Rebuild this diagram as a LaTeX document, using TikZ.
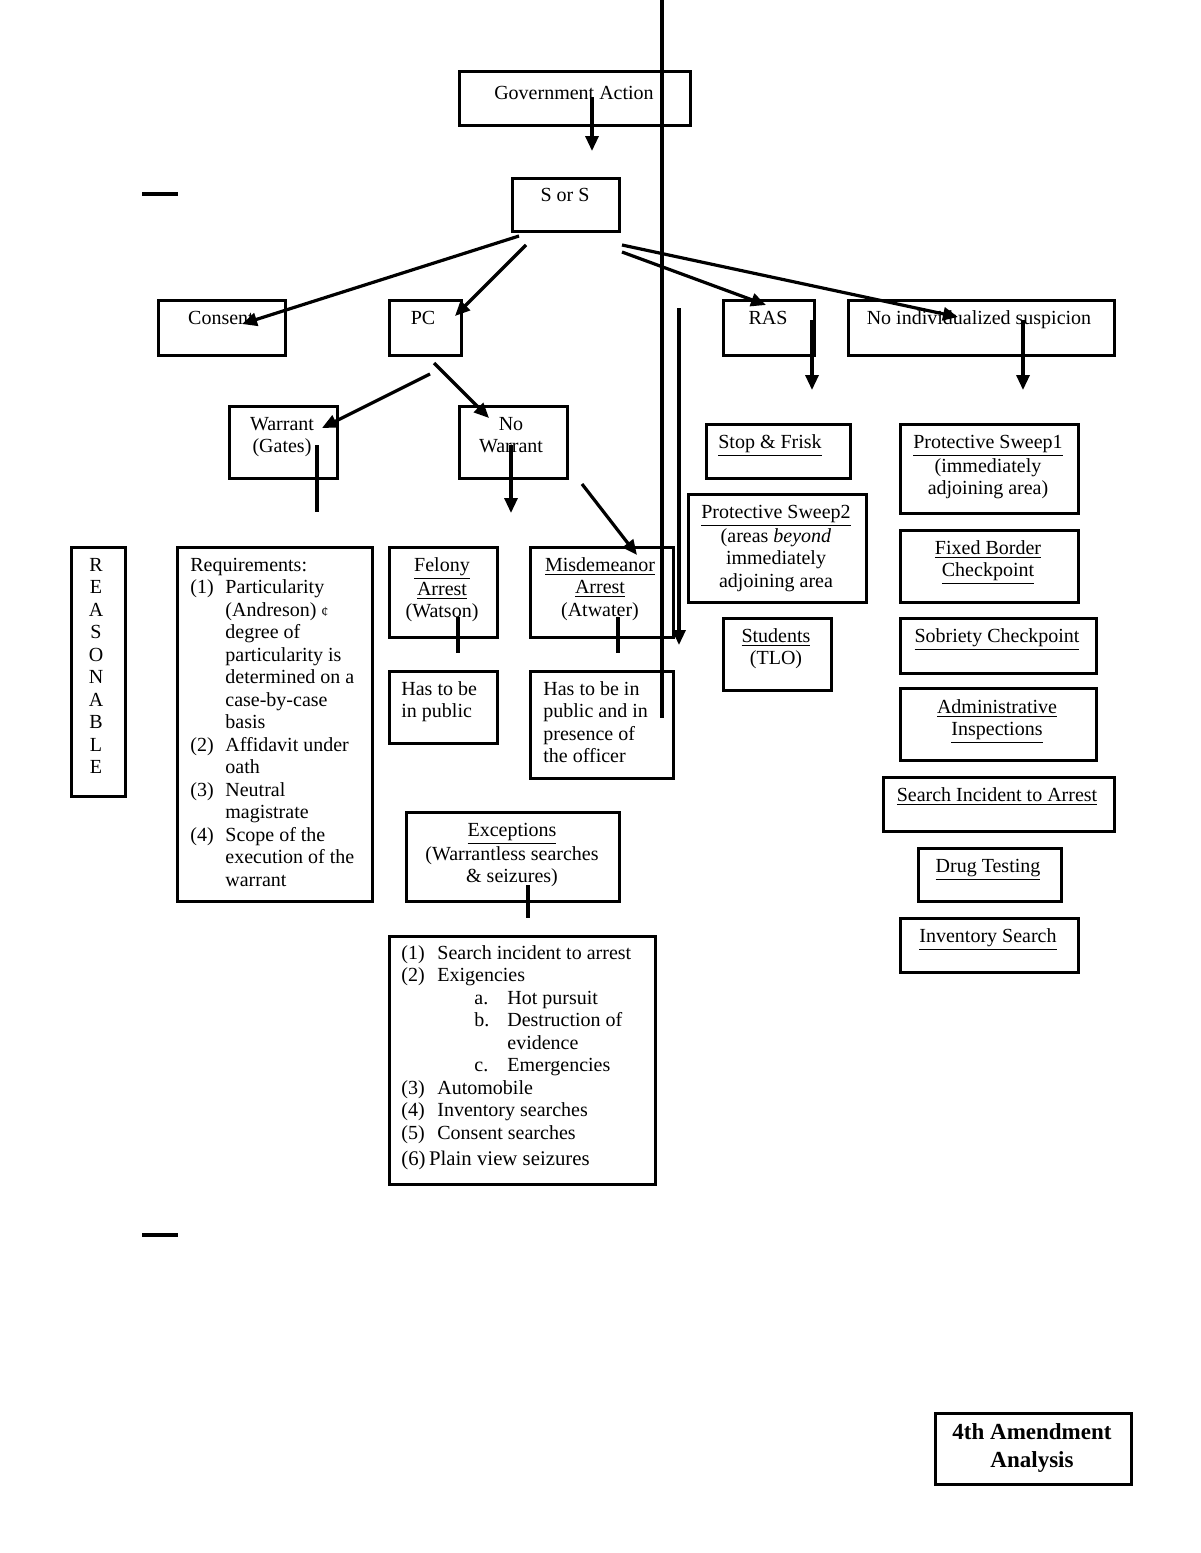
\documentclass[tikz,border=0pt]{standalone}
\usepackage{fontspec}
\setmainfont{Liberation Serif}
\usetikzlibrary{arrows.meta}
\newcommand\mybox[5]{\node[bx, anchor=north west, minimum width={(#4-#2)*0.5pt}, minimum height={(#5-#3)*0.5pt}] (#1) at (#2,#3) {};}
\newcommand\mycl[1]{\begin{tabular}[t]{@{}c@{}}#1\end{tabular}}
\newcommand\myll[1]{\begin{tabular}[t]{@{}l@{}}#1\end{tabular}}
\begin{document}
\begin{tikzpicture}[x=0.5pt,y=-0.5pt,
  bx/.style={draw, line width=1.5pt, inner sep=0pt},
  tx/.style={inner sep=0pt, font=\fontsize{10}{11.25}\selectfont, anchor=base},
  ln/.style={line width=1.6pt},
  ar/.style={line width=1.6pt, -{Triangle[length=7.5pt,width=6.5pt]}}]
\useasboundingbox[fill=white] (0,0) rectangle (1200,1553);

% boxes
\mybox{gov}{458}{70}{689}{124}
\mybox{sors}{511}{177}{618}{230}
\mybox{consent}{157}{299}{284}{354}
\mybox{pc}{388}{299}{460}{354}
\mybox{ras}{722}{299}{813}{354}
\mybox{noind}{847}{299}{1113}{354}
\mybox{warrant}{228}{405}{336}{477}
\mybox{nowarrant}{458}{405}{566}{477}
\mybox{stop}{705}{423}{849}{477}
\mybox{ps1}{899}{423}{1077}{512}
\mybox{ps2}{687}{493}{865}{601}
\mybox{fixed}{899}{529}{1077}{601}
\mybox{students}{722}{617}{830}{689}
\mybox{sobriety}{899}{617}{1095}{672}
\mybox{admin}{899}{687}{1095}{759}
\mybox{sita}{882}{776}{1113}{830}
\mybox{drug}{917}{847}{1060}{900}
\mybox{inv}{899}{917}{1077}{971}
\mybox{reas}{70}{546}{124}{795}
\mybox{req}{176}{546}{371}{900}
\mybox{felony}{388}{546}{496}{636}
\mybox{misd}{529}{546}{672}{636}
\mybox{pub}{388}{670}{496}{742}
\mybox{pubpres}{529}{670}{672}{777}
\mybox{exc}{405}{811}{618}{900}
\mybox{exclist}{388}{935}{654}{1183}
\mybox{title}{934}{1412}{1130}{1483}

% texts
\node[tx] (gov-t) at (574,99) {Government Action};
\node[tx] (sors-t) at (565,201) {S or S};
\node[tx] (consent-t) at (221,324) {Consent};
\node[tx] (pc-t) at (423,324) {PC};
\node[tx] (ras-t) at (768,324) {RAS};
\node[tx] (noind-t) at (979,324) {No individualized suspicion};
\node[tx] (warrant-t) at (282,430) {\mycl{Warrant\\(Gates)}};
\node[tx] (nowarrant-t) at (511,430) {\mycl{No\\Warrant}};
\node[tx] (stop-t) at (770,448) {\underline{Stop \& Frisk}};
\node[tx] (ps1-t) at (988,448) {\mycl{\underline{Protective Sweep1}\\(immediately\\adjoining area)}};
\node[tx] (ps2-t) at (776,518) {\mycl{\underline{Protective Sweep2}\\(areas \textit{beyond}\\immediately\\adjoining area}};
\node[tx] (fixed-t) at (988,554) {\mycl{\underline{Fixed Border}\\\underline{Checkpoint}}};
\node[tx] (students-t) at (776,642) {\mycl{\underline{Students}\\(TLO)}};
\node[tx] (sobriety-t) at (997,642) {\underline{Sobriety Checkpoint}};
\node[tx] (admin-t) at (997,713) {\mycl{\underline{Administrative}\\\underline{Inspections}}};
\node[tx] (sita-t) at (997,801) {\underline{Search Incident to Arrest}};
\node[tx] (drug-t) at (988,872) {\underline{Drug Testing}};
\node[tx] (inv-t) at (988,942) {\underline{Inventory Search}};
\node[tx] (reas-t) at (96,571) {\mycl{R\\E\\A\\S\\O\\N\\A\\B\\L\\E}};
\node[tx, anchor=base west] (req-t) at (190,571) {\begin{tabular}[t]{@{}p{17.5pt}@{}l@{}}
\multicolumn{2}{@{}l@{}}{Requirements:}\\
(1) & Particularity\\
 & (Andreson) {\scriptsize ¢}\\
 & degree of\\
 & particularity is\\
 & determined on a\\
 & case-by-case\\
 & basis\\
(2) & Affidavit under\\
 & oath\\
(3) & Neutral\\
 & magistrate\\
(4) & Scope of the\\
 & execution of the\\
 & warrant
\end{tabular}};
\node[tx] (felony-t) at (442,571) {\mycl{\underline{Felony}\\\underline{Arrest}\\(Watson)}};
\node[tx] (misd-t) at (600,571) {\mycl{\underline{Misdemeanor}\\\underline{Arrest}\\(Atwater)}};
\node[tx, anchor=base west] (pub-t) at (401,695) {\myll{Has to be\\in public}};
\node[tx, anchor=base west] (pubpres-t) at (543,695) {\myll{Has to be in\\public and in\\presence of\\the officer}};
\node[tx] (exc-t) at (512,836) {\mycl{\underline{Exceptions}\\(Warrantless searches\\\& seizures)}};
\node[tx, anchor=base west] (exclist-t) at (401,959) {\begin{tabular}[t]{@{}p{18pt}@{}p{18.5pt}@{}p{16.5pt}@{}l@{}}
(1) & \multicolumn{3}{@{}l@{}}{Search incident to arrest}\\
(2) & \multicolumn{3}{@{}l@{}}{Exigencies}\\
 & & a. & Hot pursuit\\
 & & b. & Destruction of\\
 & & & evidence\\
 & & c. & Emergencies\\
(3) & \multicolumn{3}{@{}l@{}}{Automobile}\\
(4) & \multicolumn{3}{@{}l@{}}{Inventory searches}\\
(5) & \multicolumn{3}{@{}l@{}}{Consent searches}\\[1.8pt]
\multicolumn{4}{@{}l@{}}{\fontsize{10.4}{12}\selectfont(6)\,Plain view seizures}
\end{tabular}};
\node[tx, font=\bfseries\fontsize{11.5}{14}\selectfont] (title-t) at (1032,1439) {\mycl{4th Amendment\\Analysis}};

% free ends
\coordinate (dashA1) at (142,194); \coordinate (dashA2) at (178,194);
\coordinate (dashB1) at (142,1235); \coordinate (dashB2) at (178,1235);
\coordinate (vl1) at (662,0); \coordinate (vl2) at (662,718);
\coordinate (vr1) at (679,308); \coordinate (vr2) at (679,645);
\coordinate (govs) at (592,97); \coordinate (gove) at (592,151);
\coordinate (s1) at (519,236); \coordinate (e1) at (242,324);
\coordinate (s2) at (526,245); \coordinate (e2) at (455,316);
\coordinate (s3) at (622,252); \coordinate (e3) at (766,305);
\coordinate (s4) at (622,245); \coordinate (e4) at (958,317);
\coordinate (rs) at (812,320); \coordinate (re) at (812,390);
\coordinate (ns) at (1023,320); \coordinate (ne) at (1023,390);
\coordinate (ps) at (430,374); \coordinate (pe) at (322,428);
\coordinate (ps2s) at (434,363); \coordinate (ps2e) at (489,418);
\coordinate (ws) at (317,445); \coordinate (we) at (317,512);
\coordinate (nws) at (511,445); \coordinate (nwe) at (511,513);
\coordinate (ms) at (582,484); \coordinate (me) at (637,555);
\coordinate (fs) at (458,617); \coordinate (fe) at (458,653);
\coordinate (mis) at (618,617); \coordinate (mie) at (618,653);
\coordinate (xs) at (528,885); \coordinate (xe) at (528,918);

% connectors
\draw[ln] (dashA1) -- (dashA2);
\draw[ln] (dashB1) -- (dashB2);
\draw[ln] (vl1) -- (vl2);
\draw[ar] (vr1) -- (vr2);
\draw[ar] (govs) -- (gove);
\draw[ar] (s1) -- (e1);
\draw[ar] (s2) -- (e2);
\draw[ar] (s3) -- (e3);
\draw[ar] (s4) -- (e4);
\draw[ar] (rs) -- (re);
\draw[ar] (ns) -- (ne);
\draw[ar] (ps) -- (pe);
\draw[ar] (ps2s) -- (ps2e);
\draw[ln] (ws) -- (we);
\draw[ar] (nws) -- (nwe);
\draw[ar] (ms) -- (me);
\draw[ln] (fs) -- (fe);
\draw[ln] (mis) -- (mie);
\draw[ln] (xs) -- (xe);
\end{tikzpicture}
\end{document}
